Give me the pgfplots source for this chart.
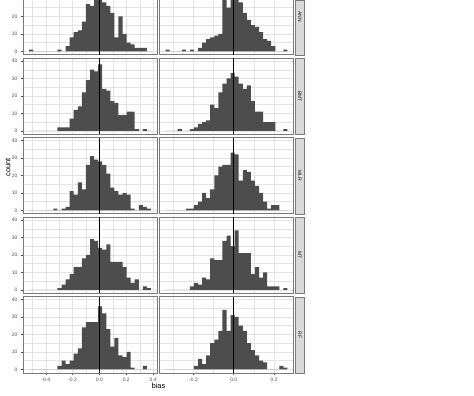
\documentclass[border=0pt]{standalone}
\usepackage{pgfplots}
\pgfplotsset{compat=1.18}
\usepackage{pgfplotstable}
\usepackage{fontspec}
\setmainfont{Liberation Sans}
\definecolor{barfill}{HTML}{4D4D4D}
\definecolor{gridc}{HTML}{E3E3E3}
\definecolor{stripfill}{HTML}{D9D9D9}
\definecolor{tickc}{HTML}{4D4D4D}
\definecolor{borderc}{HTML}{7A7A7A}

% left column: bin left edges, counts per model
\pgfplotstableread{
x ANN BMT MLR MT RF
-0.5250 1 0 0 0 0
-0.4947 0 0 0 0 0
-0.4644 0 0 0 0 0
-0.4341 0 0 0 0 0
-0.4038 0 0 0 0 0
-0.3735 0 0 0 0 0
-0.3432 0 0 1 0 0
-0.3129 1 2 0 1 2
-0.2826 0 2 1 3 5
-0.2523 3 2 2 6 3
-0.2220 8 7 11 9 5
-0.1917 11 12 9 13 9
-0.1614 12 14 16 13 12
-0.1311 17 22 12 18 24
-0.1008 27 29 26 20 27
-0.0705 26 35 31 29 27
-0.0402 33 34 29 28 27
-0.0099 36 38 28 24 36
0.0204 28 24 26 23 32
0.0507 26 23 21 26 23
0.0810 22 17 13 16 13
0.1113 8 16 11 16 18
0.1416 20 9 9 16 8
0.1719 10 9 10 13 7
0.2022 5 11 9 7 10
0.2325 4 11 1 4 1
0.2628 2 1 0 6 0
0.2931 2 0 3 0 0
0.3234 2 1 2 2 2
0.3537 0 0 1 1 0
0.3840 0 0 0 0 0
}\leftdata

% right column: bin left edges, counts per model
\pgfplotstableread{
x ANN BMT MLR MT RF
-0.3390 1 0 0 0 0
-0.3188 0 0 0 0 0
-0.2986 0 0 0 0 0
-0.2784 0 1 0 0 0
-0.2582 1 0 0 0 0
-0.2380 0 0 1 0 0
-0.2178 1 1 1 2 0
-0.1976 0 2 3 4 2
-0.1774 2 4 5 3 6
-0.1572 5 5 10 7 3
-0.1370 7 6 7 6 8
-0.1168 8 15 12 18 15
-0.0966 9 13 20 17 17
-0.0764 10 22 25 17 22
-0.0562 33 27 26 28 34
-0.0360 25 30 26 31 22
-0.0158 35 33 33 25 31
0.0044 31 31 32 34 30
0.0246 28 27 17 21 25
0.0448 22 24 23 21 22
0.0650 18 26 22 21 15
0.0852 15 17 17 9 11
0.1054 14 11 14 13 8
0.1256 11 11 10 7 5
0.1458 7 5 5 10 4
0.1660 6 5 1 2 0
0.1862 3 5 3 2 0
0.2064 0 0 3 2 0
0.2266 0 0 0 0 2
0.2468 1 1 0 1 1
0.2670 0 0 0 0 0
}\rightdata

\pgfplotsset{
  panel/.style={
    scale only axis, width=134bp, height=76bp,
    ymin=-2, ymax=41.5,
    axis line style={draw=borderc, line width=0.6bp},
    grid=both,
    major grid style={draw=gridc, line width=0.5bp},
    minor grid style={draw=gridc, line width=0.3bp},
    ytick={0,10,20,30,40}, minor ytick={5,15,25,35},
    tick align=outside,
    major tick length=2bp, minor tick length=0pt,
    tick style={draw=tickc, line width=0.5bp},
    tick label style={font=\fontsize{5}{6}\selectfont, text=tickc},
    xticklabels={}, yticklabels={},
    anchor=south west,
  },
  leftcol/.style={panel, xmin=-0.570, xmax=0.429,
    xtick={-0.4,-0.2,0,0.2,0.4}, minor xtick={-0.5,-0.3,-0.1,0.1,0.3}},
  rightcol/.style={panel, xmin=-0.369, xmax=0.297,
    xtick={-0.2,0,0.2}, minor xtick={-0.3,-0.1,0.1}},
  cut/.style={height=54.5bp, ymax=29.2,
    separate axis lines, axis x line*=bottom, axis y line*=box},
  tp/.style={tick pos=left},
  notickx/.style={xtick style={draw=none}},
  noticky/.style={ytick style={draw=none}},
  ylab/.style={yticklabels={0,10,20,30,40}},
  xlableft/.style={xticklabels={-0.4,-0.2,0.0,0.2,0.4}},
  xlabright/.style={xticklabels={-0.2,0.0,0.2}},
  bars/.style={ybar interval, fill=barfill, draw=none},
  zline/.style={black, line width=0.8bp},
}

\begin{document}
\begin{tikzpicture}
\path (0,0) rectangle (474bp,395bp);

% ---- ANN (cut at the top of the picture) ----
\begin{axis}[leftcol, cut, tp, at={(23bp,340.5bp)}, ylab, notickx]
\addplot[bars] table[x=x,y=ANN]{\leftdata};
\addplot[zline] coordinates {(0,-2) (0,29.2)};
\end{axis}
\begin{axis}[rightcol, cut, tp, at={(159.5bp,340.5bp)}, notickx, noticky]
\addplot[bars] table[x=x,y=ANN]{\rightdata};
\addplot[zline] coordinates {(0,-2) (0,29.2)};
\end{axis}

% ---- BMT ----
\begin{axis}[leftcol, tp, at={(23bp,261bp)}, ylab, notickx]
\addplot[bars] table[x=x,y=BMT]{\leftdata};
\addplot[zline] coordinates {(0,-2) (0,41.5)};
\end{axis}
\begin{axis}[rightcol, tp, at={(159.5bp,261bp)}, notickx, noticky]
\addplot[bars] table[x=x,y=BMT]{\rightdata};
\addplot[zline] coordinates {(0,-2) (0,41.5)};
\end{axis}

% ---- MLR ----
\begin{axis}[leftcol, tp, at={(23bp,181.5bp)}, ylab, notickx]
\addplot[bars] table[x=x,y=MLR]{\leftdata};
\addplot[zline] coordinates {(0,-2) (0,41.5)};
\end{axis}
\begin{axis}[rightcol, tp, at={(159.5bp,181.5bp)}, notickx, noticky]
\addplot[bars] table[x=x,y=MLR]{\rightdata};
\addplot[zline] coordinates {(0,-2) (0,41.5)};
\end{axis}

% ---- MT ----
\begin{axis}[leftcol, tp, at={(23bp,102bp)}, ylab, notickx]
\addplot[bars] table[x=x,y=MT]{\leftdata};
\addplot[zline] coordinates {(0,-2) (0,41.5)};
\end{axis}
\begin{axis}[rightcol, tp, at={(159.5bp,102bp)}, notickx, noticky]
\addplot[bars] table[x=x,y=MT]{\rightdata};
\addplot[zline] coordinates {(0,-2) (0,41.5)};
\end{axis}

% ---- RF ----
\begin{axis}[leftcol, tp, at={(23bp,22.5bp)}, ylab, xlableft]
\addplot[bars] table[x=x,y=RF]{\leftdata};
\addplot[zline] coordinates {(0,-2) (0,41.5)};
\end{axis}
\begin{axis}[rightcol, tp, at={(159.5bp,22.5bp)}, noticky, xlabright]
\addplot[bars] table[x=x,y=RF]{\rightdata};
\addplot[zline] coordinates {(0,-2) (0,41.5)};
\end{axis}

% strips (ANN strip runs to the top edge)
\filldraw[fill=stripfill, draw=borderc, line width=0.4bp] (295.5bp,340.5bp) rectangle (304bp,395bp);
\node[rotate=-90, font=\fontsize{5}{6}\selectfont, text=black!90] at (299.75bp,378.5bp) {ANN};
\filldraw[fill=stripfill, draw=borderc, line width=0.4bp] (295.5bp,261bp) rectangle (304bp,337bp);
\node[rotate=-90, font=\fontsize{5}{6}\selectfont, text=black!90] at (299.75bp,299bp) {BMT};
\filldraw[fill=stripfill, draw=borderc, line width=0.4bp] (295.5bp,181.5bp) rectangle (304bp,257.5bp);
\node[rotate=-90, font=\fontsize{5}{6}\selectfont, text=black!90] at (299.75bp,219.5bp) {MLR};
\filldraw[fill=stripfill, draw=borderc, line width=0.4bp] (295.5bp,102bp) rectangle (304bp,178bp);
\node[rotate=-90, font=\fontsize{5}{6}\selectfont, text=black!90] at (299.75bp,140bp) {MT};
\filldraw[fill=stripfill, draw=borderc, line width=0.4bp] (295.5bp,22.5bp) rectangle (304bp,98.5bp);
\node[rotate=-90, font=\fontsize{5}{6}\selectfont, text=black!90] at (299.75bp,60.5bp) {RF};

% axis titles
\node[rotate=90, font=\fontsize{7.5}{9}\selectfont] at (8bp,228bp) {count};
\node[font=\fontsize{7.5}{9}\selectfont] at (158.5bp,9bp) {bias};
\end{tikzpicture}
\end{document}
